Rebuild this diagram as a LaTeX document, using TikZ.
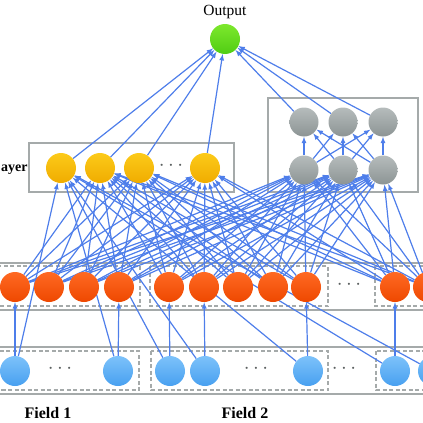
\documentclass[tikz,border=0pt]{standalone}
\usepackage{fontspec}
\setmainfont{Liberation Serif}
\usepackage{tikz}
\usetikzlibrary{arrows,backgrounds}

\definecolor{linkblue}{RGB}{78,126,234}
\definecolor{boxgray}{RGB}{165,170,170}
\definecolor{dotgray}{RGB}{90,95,95}

\tikzset{
  unit/.style={circle,minimum size=30pt,inner sep=0pt},
  outunit/.style={unit,top color={rgb,255:red,125;green,232;blue,45},bottom color={rgb,255:red,80;green,205;blue,20}},
  fmunit/.style={unit,top color={rgb,255:red,252;green,202;blue,25},bottom color={rgb,255:red,240;green,172;blue,0}},
  hidunit/.style={unit,minimum size=29pt,top color={rgb,255:red,182;green,188;blue,188},bottom color={rgb,255:red,140;green,148;blue,148}},
  embunit/.style={unit,top color={rgb,255:red,255;green,105;blue,35},bottom color={rgb,255:red,238;green,72;blue,0}},
  spunit/.style={unit,top color={rgb,255:red,125;green,194;blue,250},bottom color={rgb,255:red,72;green,160;blue,240}},
  link/.style={draw=linkblue,line width=1.2pt,-latex},
  layerbox/.style={draw=boxgray,line width=2pt},
  fieldbox/.style={draw=boxgray,line width=1.5pt,dash pattern=on 4pt off 2.5pt},
  dots/.style={text=dotgray,font=\fontsize{20}{20}\selectfont},
  fieldlabel/.style={font=\fontsize{16}{16}\selectfont\bfseries}
}

\begin{document}
\begin{tikzpicture}[x=1pt,y=1pt,yscale=-1]
\useasboundingbox (0,0) rectangle (423,423);

% Output unit
\node[outunit] (out) at (225,39) {};
\node[font=\fontsize{15.5}{15.5}\selectfont] (outlabel) at (225,12) {Output};

% FM layer
\foreach \x [count=\i] in {61,100,139,205} \node[fmunit] (y\i) at (\x,168) {};
\node[dots] (fmdots) at (171,166) {$\cdots$};
\node[font=\fontsize{14}{14}\selectfont\bfseries,anchor=west,inner sep=0pt] (fmlabel) at (1,170) {ayer};

% Hidden layers
\foreach \x [count=\i] in {304,343,383} {
  \node[hidunit] (gt\i) at (\x,122) {};
  \node[hidunit] (gb\i) at (\x,170) {};
}

% Dense embeddings
\foreach \x [count=\i] in {15,49,84,119,169,204,238,273,306,395,428} \node[embunit] (e\i) at (\x,287) {};
\node[dots] (edots) at (349,285) {$\cdots$};

% Sparse features
\foreach \x [count=\i] in {15,118,170,205,308,395,433} \node[spunit] (b\i) at (\x,371) {};
\node[dots] (bdots1) at (60,369) {$\cdots$};
\node[dots] (bdots2) at (256,369) {$\cdots$};
\node[dots] (bdots3) at (344,369) {$\cdots$};

% Field labels
\node[fieldlabel] (field1) at (48,413) {Field 1};
\node[fieldlabel] (field2) at (245,413) {Field 2};

% Boxes
\begin{scope}[on background layer]
\draw[layerbox] (29,143) rectangle (234,192);
\draw[layerbox] (268,98) rectangle (418,192);
\draw[layerbox] (-5,263) rectangle (440,310);
\draw[layerbox] (-5,347) rectangle (440,394);
\draw[fieldbox] (-5,266) rectangle (140,306);
\draw[fieldbox] (150,266) rectangle (328,306);
\draw[fieldbox] (375,266) rectangle (440,306);
\draw[fieldbox] (-5,351) rectangle (139,390);
\draw[fieldbox] (151,351) rectangle (328,390);
\draw[fieldbox] (376,351) rectangle (440,390);
\end{scope}

% Connectors
\begin{scope}[on background layer]
\foreach \n in {y1,y2,y3,y4,gt1,gt2,gt3} \draw[link] (\n) -- (out);
\foreach \a in {1,2,3} \foreach \b in {1,2,3} \draw[link] (gb\a) -- (gt\b);
\foreach \i in {1,...,11} {
  \foreach \j in {2,3,4} \draw[link] (e\i) -- (y\j);
  \foreach \j in {1,2,3} \draw[link] (e\i) -- (gb\j);
}
\foreach \i in {1,...,7} \draw[link] (b\i) -- (y1);
\foreach \i/\j in {1/1,2/4,3/5,4/6,5/9,6/10,7/11} \draw[link] (b\i) -- (e\j);
\end{scope}

\end{tikzpicture}
\end{document}
